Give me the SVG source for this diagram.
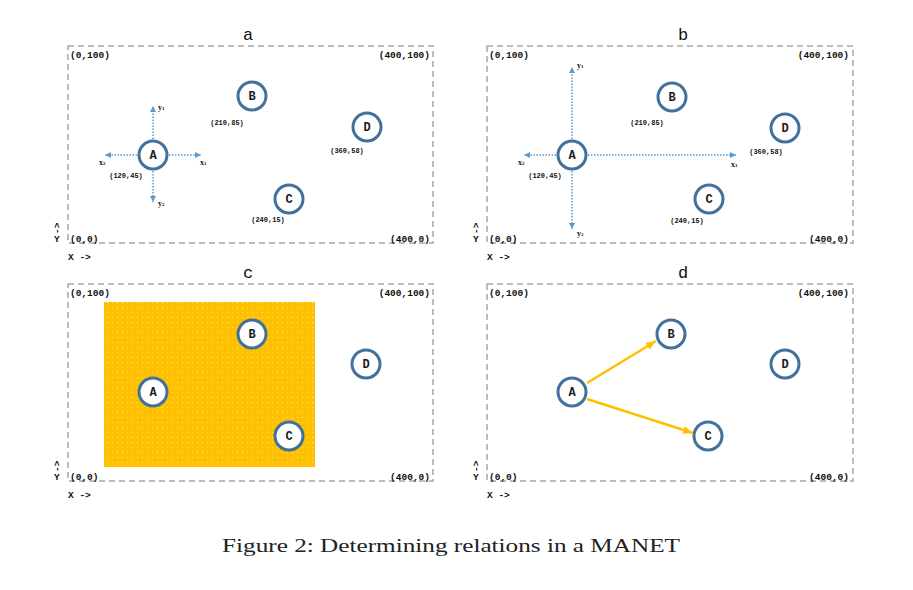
<svg xmlns="http://www.w3.org/2000/svg" width="913" height="590" viewBox="0 0 913 590">
<defs>
<style>
.frame{fill:none;stroke:#A6A6A6;stroke-width:1.5;stroke-dasharray:6,4}
.node{fill:#fff;stroke:#41719C;stroke-width:3}
.nl{font-family:"Liberation Mono",monospace;font-weight:bold;font-size:12px;fill:#1a1a1a;text-anchor:middle}
.corner{font-family:"Liberation Mono",monospace;font-weight:bold;font-size:9.5px;fill:#111}
.coord{font-family:"Liberation Mono",monospace;font-weight:bold;font-size:7px;fill:#111;text-anchor:middle}
.title{font-family:"Liberation Mono",monospace;font-size:17px;fill:#111;text-anchor:middle}
.ax{font-family:"Liberation Serif",serif;font-weight:bold;font-size:8px;fill:#111}
.sub{font-size:5px}
.dot{stroke:#5B9BD5;stroke-width:1.5;stroke-dasharray:1.5,1.5;fill:none}
.rel{stroke:#FFC000;stroke-width:2.5;fill:none}
.cap{font-family:"Liberation Serif",serif;font-size:19px;fill:#222}
</style>
<marker id="ba" markerWidth="6" markerHeight="6" refX="6" refY="3" orient="auto" markerUnits="userSpaceOnUse"><path d="M0,0 L6,3 L0,6 z" fill="#5B9BD5"/></marker>
<marker id="oa" markerWidth="10" markerHeight="8" refX="10" refY="4" orient="auto" markerUnits="userSpaceOnUse"><path d="M0,0 L10,4 L0,8 z" fill="#FFC000"/></marker>
<pattern id="dots" width="5" height="5" patternUnits="userSpaceOnUse"><rect width="5" height="5" fill="#FFC000"/><circle cx="2.5" cy="2.5" r="0.6" fill="#fff" fill-opacity="0.6"/></pattern>
</defs>
<rect width="913" height="590" fill="#fff"/>

<!-- Panel a -->
<g id="panel-a">
<text class="title" x="248" y="40">a</text>
<rect class="frame" x="68" y="46" width="365" height="197"/>
<text class="corner" x="70" y="58">(0,100)</text>
<text class="corner" x="430" y="58" text-anchor="end">(400,100)</text>
<text class="corner" x="70" y="242">(0,0)</text>
<text class="corner" x="430" y="242" text-anchor="end">(400,0)</text>
<text class="corner" x="54" y="242">Y</text>
<text class="corner" transform="translate(60,234) rotate(-90)">-&gt;</text>
<text class="corner" x="68" y="260">X -&gt;</text>
<text class="coord" x="227" y="125">(210,85)</text>
<text class="coord" x="347" y="153">(360,58)</text>
<text class="coord" x="126" y="178">(120,45)</text>
<text class="coord" x="268" y="222">(240,15)</text>
<text class="ax" x="158" y="110">y<tspan class="sub">1</tspan></text>
<text class="ax" x="158" y="206">y<tspan class="sub">2</tspan></text>
<text class="ax" x="99" y="165">x<tspan class="sub">2</tspan></text>
<text class="ax" x="200" y="165">x<tspan class="sub">1</tspan></text>
</g>
<g id="a-A"><circle class="node" cx="153" cy="155" r="14"/><text class="nl" x="153" y="159">A</text></g>
<g id="a-B"><circle class="node" cx="252" cy="96" r="14"/><text class="nl" x="252" y="100">B</text></g>
<g id="a-C"><circle class="node" cx="289" cy="199" r="14"/><text class="nl" x="289" y="203">C</text></g>
<g id="a-D"><circle class="node" cx="367" cy="127" r="14"/><text class="nl" x="367" y="131">D</text></g>

<!-- Panel b -->
<g id="panel-b">
<text class="title" x="683" y="40">b</text>
<rect class="frame" x="487" y="46" width="366" height="197"/>
<text class="corner" x="489" y="58">(0,100)</text>
<text class="corner" x="849" y="58" text-anchor="end">(400,100)</text>
<text class="corner" x="489" y="242">(0,0)</text>
<text class="corner" x="849" y="242" text-anchor="end">(400,0)</text>
<text class="corner" x="473" y="242">Y</text>
<text class="corner" transform="translate(479,234) rotate(-90)">-&gt;</text>
<text class="corner" x="487" y="260">X -&gt;</text>
<text class="coord" x="647" y="125">(210,85)</text>
<text class="coord" x="766" y="154">(360,58)</text>
<text class="coord" x="545" y="178">(120,45)</text>
<text class="coord" x="687" y="223">(240,15)</text>
<text class="ax" x="577" y="68">y<tspan class="sub">1</tspan></text>
<text class="ax" x="577" y="236">y<tspan class="sub">2</tspan></text>
<text class="ax" x="518" y="165">x<tspan class="sub">2</tspan></text>
<text class="ax" x="731" y="167">x<tspan class="sub">1</tspan></text>
</g>
<g id="b-A"><circle class="node" cx="572" cy="155" r="14"/><text class="nl" x="572" y="159">A</text></g>
<g id="b-B"><circle class="node" cx="672" cy="97" r="14"/><text class="nl" x="672" y="101">B</text></g>
<g id="b-C"><circle class="node" cx="709" cy="199" r="14"/><text class="nl" x="709" y="203">C</text></g>
<g id="b-D"><circle class="node" cx="785" cy="128" r="14"/><text class="nl" x="785" y="132">D</text></g>

<!-- Panel c -->
<g id="panel-c">
<text class="title" x="248" y="278">c</text>
<rect class="frame" x="68" y="284" width="365" height="197"/>
<rect x="104" y="302" width="211" height="165" fill="url(#dots)"/>
<text class="corner" x="70" y="296">(0,100)</text>
<text class="corner" x="430" y="296" text-anchor="end">(400,100)</text>
<text class="corner" x="70" y="480">(0,0)</text>
<text class="corner" x="430" y="480" text-anchor="end">(400,0)</text>
<text class="corner" x="54" y="480">Y</text>
<text class="corner" transform="translate(60,472) rotate(-90)">-&gt;</text>
<text class="corner" x="68" y="498">X -&gt;</text>
</g>
<g id="c-A"><circle class="node" cx="153" cy="392" r="14"/><text class="nl" x="153" y="396">A</text></g>
<g id="c-B"><circle class="node" cx="252" cy="334" r="14"/><text class="nl" x="252" y="338">B</text></g>
<g id="c-C"><circle class="node" cx="289" cy="436" r="14"/><text class="nl" x="289" y="440">C</text></g>
<g id="c-D"><circle class="node" cx="366" cy="364" r="14"/><text class="nl" x="366" y="368">D</text></g>

<!-- Panel d -->
<g id="panel-d">
<text class="title" x="683" y="278">d</text>
<rect class="frame" x="487" y="284" width="366" height="197"/>
<text class="corner" x="489" y="296">(0,100)</text>
<text class="corner" x="849" y="296" text-anchor="end">(400,100)</text>
<text class="corner" x="489" y="480">(0,0)</text>
<text class="corner" x="849" y="480" text-anchor="end">(400,0)</text>
<text class="corner" x="473" y="480">Y</text>
<text class="corner" transform="translate(479,472) rotate(-90)">-&gt;</text>
<text class="corner" x="487" y="498">X -&gt;</text>
</g>
<g id="d-A"><circle class="node" cx="572" cy="392" r="14"/><text class="nl" x="572" y="396">A</text></g>
<g id="d-B"><circle class="node" cx="671" cy="334" r="14"/><text class="nl" x="671" y="338">B</text></g>
<g id="d-C"><circle class="node" cx="708" cy="436" r="14"/><text class="nl" x="708" y="440">C</text></g>
<g id="d-D"><circle class="node" cx="785" cy="364" r="14"/><text class="nl" x="785" y="368">D</text></g>

<g id="connectors">
<line class="dot" x1="153" y1="139" x2="153" y2="106" marker-end="url(#ba)"/>
<line class="dot" x1="153" y1="171" x2="153" y2="202" marker-end="url(#ba)"/>
<line class="dot" x1="137" y1="155" x2="105" y2="155" marker-end="url(#ba)"/>
<line class="dot" x1="169" y1="155" x2="201" y2="155" marker-end="url(#ba)"/>
<line class="dot" x1="572" y1="139" x2="572" y2="67" marker-end="url(#ba)"/>
<line class="dot" x1="572" y1="171" x2="572" y2="229" marker-end="url(#ba)"/>
<line class="dot" x1="556" y1="155" x2="524" y2="155" marker-end="url(#ba)"/>
<line class="dot" x1="588" y1="155" x2="736" y2="155" marker-end="url(#ba)"/>
<line class="rel" x1="587" y1="383" x2="656" y2="341" marker-end="url(#oa)"/>
<line class="rel" x1="587" y1="399" x2="693" y2="433" marker-end="url(#oa)"/>
</g>

<text class="cap" x="222" y="552" textLength="458" lengthAdjust="spacingAndGlyphs">Figure 2: Determining relations in a MANET</text>
</svg>
